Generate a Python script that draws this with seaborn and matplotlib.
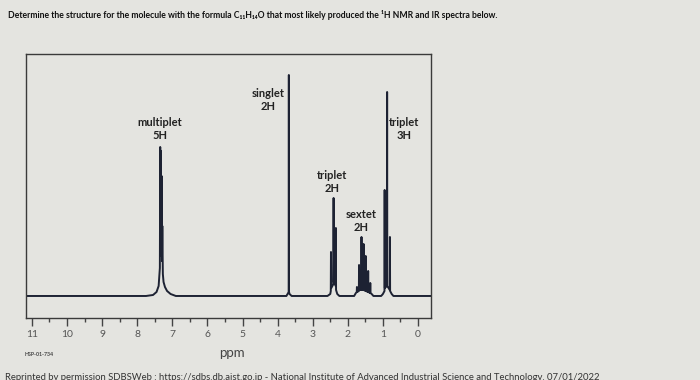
"""
1H NMR spectrum of C11H14O (1-phenyl-2-pentanone style), redrawn from a photo of a homework page.
"""
import pandas as pd
import matplotlib
matplotlib.use('Agg')
import matplotlib.pyplot as plt
from matplotlib.ticker import MultipleLocator
import seaborn as sns

# ------------------------------------------------------------
# Spectrum points: (ppm, intensity above baseline)
# ------------------------------------------------------------
baseline_left = [(11.17, 0), (7.75, 0)]
multiplet_5h = [(7.55, 1), (7.45, 4), (7.39, 10), (7.355, 28), (7.345, 149), (7.335, 40),
                (7.325, 145), (7.315, 45), (7.305, 120), (7.295, 35), (7.285, 70), (7.27, 22),
                (7.25, 14), (7.21, 9), (7.15, 5), (7.05, 2), (6.90, 0)]
singlet_2h = [(3.75, 0), (3.70, 3), (3.685, 4), (3.68, 221), (3.675, 4), (3.66, 2), (3.60, 0)]
triplet_2h = [(2.58, 0), (2.50, 2), (2.485, 5), (2.48, 44), (2.47, 8), (2.41, 12), (2.405, 98),
              (2.40, 14), (2.345, 10), (2.34, 68), (2.335, 6), (2.30, 2), (2.24, 0)]
sextet_2h = [(1.82, 0), (1.77, 3), (1.745, 4), (1.74, 9), (1.735, 4), (1.685, 5), (1.68, 31),
             (1.675, 6), (1.615, 6), (1.61, 59), (1.605, 6), (1.555, 6), (1.55, 52), (1.545, 6),
             (1.495, 5), (1.49, 40), (1.485, 5), (1.425, 4), (1.42, 25), (1.415, 4), (1.365, 3),
             (1.36, 13), (1.355, 3), (1.32, 2), (1.27, 0)]
triplet_3h = [(1.05, 0), (1.00, 2), (0.955, 5), (0.95, 106), (0.945, 8), (0.885, 10), (0.88, 204),
              (0.875, 10), (0.805, 6), (0.80, 59), (0.795, 5), (0.75, 2), (0.70, 0)]
baseline_right = [(-0.37, 0)]

peak_labels = ["multiplet\n5H", "singlet\n2H", "triplet\n2H", "sextet\n2H", "triplet\n3H"]
label_ppm = [7.35, 4.28, 2.45, 1.63, 0.40]
label_bottom = [155, 184, 102, 63, 155]

tick_values = list(range(0, 12))

title = ("Determine the structure for the molecule with the formula C\u2081\u2081H\u2081\u2084O "
         "that most likely produced the \u00b9H NMR and IR spectra below.")
footer = ("Reprinted by permission SDBSWeb : https://sdbs.db.aist.go.jp - National Institute of "
          "Advanced Industrial Science and Technology. 07/01/2022")

points = (baseline_left + multiplet_5h + singlet_2h + triplet_2h + sextet_2h
          + triplet_3h + baseline_right)
spec = pd.DataFrame(points, columns=['ppm', 'intensity'])

# ------------------------------------------------------------
# Figure
# ------------------------------------------------------------
sns.set_style("white")
plt.rcParams['font.family'] = ['Lato', 'DejaVu Sans']
bg = '#e4e4e0'

fig = plt.figure(figsize=(7.0, 3.8), dpi=100, facecolor=bg)
ax = fig.add_axes([0.0371, 0.1632, 0.5786, 0.6947], facecolor=bg)

sns.lineplot(data=spec, x='ppm', y='intensity', sort=False, estimator=None,
             color='#1d2233', linewidth=1.4, ax=ax)

ax.set_xlim(11.17, -0.37)
ax.set_ylim(-22, 242)
ax.set_xticks(tick_values)
ax.set_xticklabels([str(t) for t in tick_values])
ax.xaxis.set_minor_locator(MultipleLocator(0.5))
ax.set_yticks([])
ax.set_xlabel('')
ax.set_ylabel('')
ax.tick_params(axis='x', which='major', direction='out', length=6, width=1,
               color='#444444', labelsize=7.5, labelcolor='#555555', pad=3, bottom=True)
ax.tick_params(axis='x', which='minor', direction='out', length=3, width=1,
               color='#444444', bottom=True)
for s in ax.spines.values():
    s.set_color('#3a3a3a')
    s.set_linewidth(1.0)

for lab, x, y in zip(peak_labels, label_ppm, label_bottom):
    ax.text(x, y, lab, ha='center', va='bottom', fontsize=8, fontweight='bold',
            color='#222222', linespacing=1.2)

fig.text(8 / 700, 1 - 15 / 380, title, ha='left', va='center', fontsize=6.25,
         fontweight='bold', color='#111111')
fig.text(232 / 700, 1 - 353 / 380, 'ppm', ha='center', va='center', fontsize=9.5,
         color='#444444')
fig.text(25 / 700, 1 - 355 / 380, 'HSP-01-734', ha='left', va='center', fontsize=3.8,
         fontweight='bold', color='#444444')
fig.text(5 / 700, 1 - 377 / 380, footer, ha='left', va='center', fontsize=6.8,
         color='#333333')

plt.savefig("out.png", dpi=100, facecolor=bg)
plt.close()
